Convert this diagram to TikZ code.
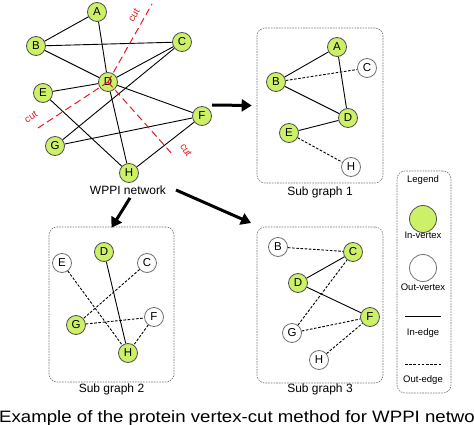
\documentclass[tikz,border=0pt]{standalone}
\usepackage{fontspec}
\setmainfont{Liberation Sans}
\usetikzlibrary{arrows.meta}

\definecolor{ingreen}{RGB}{204,240,104}
\definecolor{cutred}{RGB}{232,24,36}
\definecolor{rimgray}{RGB}{80,80,80}

\tikzset{
  invertex/.style = {circle, draw = rimgray, fill = ingreen, line width = 0.8pt,
    minimum size = 19pt, inner sep = 0pt, font = \fontsize{11.5}{12}\selectfont},
  outvertex/.style = {invertex, draw = rimgray!80, fill = white},
  inedge/.style = {line width = 0.9pt, black},
  outedge/.style = {line width = 0.9pt, black, dash pattern = on 2.6pt off 1.6pt},
  subbox/.style = {draw = black!55, line width = 0.6pt, dash pattern = on 1.6pt off 1.1pt,
    rounded corners = 8pt, inner sep = 0pt},
  bigarrow/.style = {line width = 3pt, -{Triangle[length = 10pt, width = 12pt]}},
  cutline/.style = {cutred, line width = 1pt, dash pattern = on 7pt off 4pt},
  cutlabel/.style = {cutred, inner sep = 0pt, font = \fontsize{10}{10}\selectfont},
  boxlabel/.style = {font = \fontsize{12}{12}\selectfont},
  legendtext/.style = {font = \fontsize{9.5}{10}\selectfont, inner sep = 0pt}
}

\begin{document}
\begin{tikzpicture}[x = 1pt, y = -1pt]
	 \clip (0, 0) rectangle (474, 425);
	 \fill[white] (0, 0) rectangle (474, 425);
	 
	 % WPPI network
	 \node[invertex] (A) at (97, 12) {A};
	 \node[invertex] (B) at (36, 46) {B};
	 \node[invertex] (C) at (182, 42) {C};
	 \node[invertex] (D) at (108, 82) {D};
	 \node[invertex] (E) at (43, 93) {E};
	 \node[invertex] (F) at (202, 116) {F};
	 \node[invertex] (G) at (55, 146) {G};
	 \node[invertex] (H) at (129, 173) {H};
	 \foreach \u/\v in {A/B, A/D, B/C, B/D, C/D, C/G, E/D, E/H, D/F, D/H, G/F, F/H}
	 \draw[inedge] (\u) -- (\v);
	 \node[boxlabel] (net) at (128, 190) {WPPI network};
	 
	 % cuts through D
	 \coordinate (cutA) at (152, 4);
	 \coordinate (cutB) at (38, 128);
	 \coordinate (cutC) at (173, 155);
	 \draw[cutline] (D.center) -- (cutA);
	 \draw[cutline] (D.center) -- (cutB);
	 \draw[cutline] (D.center) -- (cutC);
	 \node[cutlabel, rotate = 60] at (134, 15) {cut};
	 \node[cutlabel, rotate = 33] at (31, 117) {cut};
	 \node[cutlabel, rotate = -58] at (186, 150) {cut};
	 
	 % Sub graph 1
	 \node[subbox, minimum width = 126, minimum height = 155] (sub1) at (320, 105.5) {};
	 \node[boxlabel] at (320, 192) {Sub graph 1};
	 \node[invertex] (A1) at (337, 47) {A};
	 \node[invertex] (B1) at (276, 82) {B};
	 \node[outvertex] (C1) at (367, 68) {C};
	 \node[invertex] (D1) at (348, 118) {D};
	 \node[invertex] (E1) at (289, 133) {E};
	 \node[outvertex] (H1) at (351, 167) {H};
	 \draw[inedge] (A1) -- (B1);
	 \draw[inedge] (A1) -- (D1);
	 \draw[inedge] (B1) -- (D1);
	 \draw[inedge] (E1) -- (D1);
	 \draw[outedge] (B1) -- (C1);
	 \draw[outedge] (E1) -- (H1);
	 
	 % Sub graph 2
	 \node[subbox, minimum width = 125, minimum height = 155] (sub2) at (111.5, 304.5) {};
	 \node[boxlabel] at (111.5, 389) {Sub graph 2};
	 \node[invertex] (D2) at (104, 252) {D};
	 \node[outvertex] (E2) at (62, 263) {E};
	 \node[outvertex] (C2) at (147, 263) {C};
	 \node[invertex] (G2) at (76, 325) {G};
	 \node[outvertex] (F2) at (154, 317) {F};
	 \node[invertex] (H2) at (128, 353) {H};
	 \draw[inedge] (D2) -- (H2);
	 \draw[outedge] (E2) -- (H2);
	 \draw[outedge] (C2) -- (G2);
	 \draw[outedge] (G2) -- (F2);
	 \draw[outedge] (F2) -- (H2);
	 
	 % Sub graph 3
	 \node[subbox, minimum width = 126, minimum height = 156] (sub3) at (320, 305) {};
	 \node[boxlabel] at (320, 389) {Sub graph 3};
	 \node[outvertex] (B3) at (278, 247) {B};
	 \node[invertex] (C3) at (353, 252) {C};
	 \node[invertex] (D3) at (298, 283) {D};
	 \node[invertex] (F3) at (370, 317) {F};
	 \node[outvertex] (G3) at (292, 333) {G};
	 \node[outvertex] (H3) at (319, 360) {H};
	 \draw[inedge] (D3) -- (C3);
	 \draw[inedge] (D3) -- (F3);
	 \draw[outedge] (B3) -- (C3);
	 \draw[outedge] (G3) -- (C3);
	 \draw[outedge] (G3) -- (F3);
	 \draw[outedge] (H3) -- (F3);
	 
	 % arrows
	 \coordinate (out1) at (212, 105);
	 \coordinate (out3) at (176, 190);
	 \coordinate (in3) at (251, 223);
	 \draw[bigarrow] (out1) -- ([xshift = -5pt] sub1.west);
	 \draw[bigarrow] ([xshift = 2pt] net.south) -- ([yshift = -1pt] sub2.north);
	 \draw[bigarrow] (out3) -- (in3);
	 
	 % Legend
	 \node[subbox, minimum width = 54, minimum height = 222] (legend) at (424, 282) {};
	 \node[legendtext] at (423, 180) {Legend};
	 \node[invertex, minimum size = 27pt] (inv) at (423, 219) {};
	 \node[legendtext] at (423, 235) {In-vertex};
	 \node[outvertex, minimum size = 27pt] (outv) at (423, 268) {};
	 \node[legendtext] at (423, 287) {Out-vertex};
	 \coordinate (ina) at (405, 316);
	 \coordinate (inb) at (441, 316);
	 \draw[inedge] (ina) -- (inb);
	 \node[legendtext] at (423, 333) {In-edge};
	 \coordinate (outa) at (405, 364);
	 \coordinate (outb) at (441, 364);
	 \draw[outedge] (outa) -- (outb);
	 \node[legendtext] at (423, 380) {Out-edge};
	 
	 % caption
	 \node[anchor = base west, inner sep = 0pt, font = \fontsize{16.5}{17}\selectfont] (caption) at (-1, 422)
	 {\scalebox{1.13}[1]{Example of the protein vertex-cut method for WPPI network}};
\end{tikzpicture}
\end{document}
